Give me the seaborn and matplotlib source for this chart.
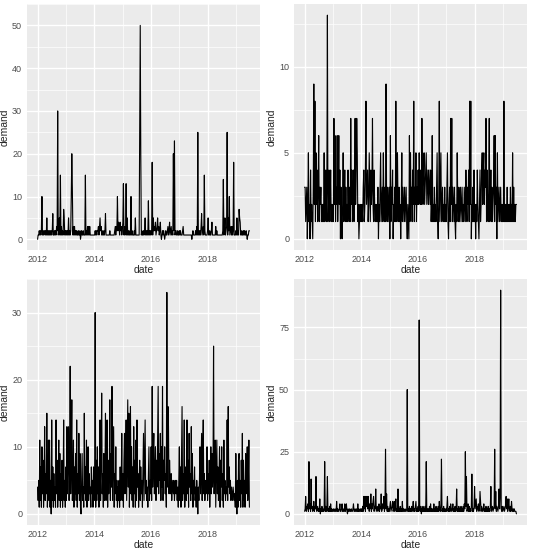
import numpy as np
import pandas as pd
import seaborn as sns
import matplotlib.pyplot as plt
import matplotlib.dates as mdates

# weekly demand, 2012-01-01 .. 2019-06-30 (one row per year)
demand_a = (
    [0, 1, 1, 2, 1, 2, 1, 2, 10, 1, 2, 1, 2, 2, 1, 2, 1, 5, 1, 2, 1, 2, 1, 2, 1, 2, 1, 2, 6, 1, 1, 2, 1, 2, 1, 3, 2, 30, 1, 2, 5, 1, 15, 1, 3, 1, 2, 1, 7, 5, 1, 2]
    + [1, 2, 1, 2, 1, 5, 1, 2, 1, 2, 10, 20, 12, 1, 3, 1, 3, 1, 2, 1, 2, 1, 1, 2, 1, 1, 2, 0, 1, 2, 1, 1, 2, 1, 1, 1, 15, 1, 2, 1, 3, 1, 3, 1, 3, 1, 1, 1, 1, 1, 1, 1]
    + [1, 1, 2, 1, 2, 1, 2, 2, 3, 1, 3, 5, 2, 3, 1, 2, 1, 1, 2, 1, 2, 6, 1, 1, 1, 1, 1, 1, 1, 2, 1, 1, 1, 1, 1, 1, 1, 1, 2, 3, 1, 3, 2, 10, 2, 4, 3, 1, 4, 2, 3, 1]
    + [2, 4, 13, 1, 3, 1, 2, 13, 1, 5, 1, 2, 1, 1, 2, 1, 10, 1, 2, 1, 1, 1, 2, 1, 5, 1, 1, 1, 1, 1, 1, 1, 25, 50, 20, 1, 2, 1, 1, 2, 1, 2, 5, 1, 2, 1, 2, 1, 9, 1, 2, 1]
    + [2, 1, 2, 18, 1, 5, 2, 3, 2, 4, 1, 2, 3, 5, 2, 3, 1, 2, 4, 1, 0, 1, 2, 1, 2, 1, 0, 1, 2, 1, 1, 2, 3, 1, 2, 4, 1, 2, 3, 1, 2, 1, 20, 2, 23, 1, 2, 2, 1, 1, 2, 1]
    + [1, 2, 1, 2, 1, 1, 1, 2, 3, 1, 1, 1, 1, 1, 1, 1, 1, 1, 1, 1, 1, 1, 1, 1, 0, 1, 2, 1, 1, 1, 1, 2, 1, 3, 1, 25, 1, 2, 1, 2, 1, 3, 6, 1, 2, 3, 1, 15, 2, 1, 1, 1]
    + [1, 2, 5, 1, 1, 2, 1, 1, 2, 4, 1, 1, 1, 1, 1, 1, 3, 1, 2, 1, 1, 1, 1, 1, 1, 1, 1, 1, 1, 2, 14, 1, 2, 5, 1, 2, 3, 25, 1, 5, 2, 10, 1, 2, 3, 1, 3, 1, 2, 18, 1, 1]
    + [1, 2, 1, 5, 1, 2, 1, 7, 5, 4, 1, 1, 2, 1, 1, 2, 1, 2, 1, 1, 2, 1, 0, 1, 1, 2, 2]
)

demand_b = (
    [3, 3, 1, 2, 3, 0, 2, 5, 1, 2, 0, 4, 1, 2, 1, 0, 3, 9, 2, 8, 1, 5, 2, 4, 1, 3, 6, 1, 3, 2, 3, 1, 2, 1, 2, 1, 5, 1, 2, 4, 1, 3, 13, 1, 2, 4, 1, 2, 4, 1, 2, 1]
    + [2, 1, 7, 2, 6, 1, 3, 2, 6, 1, 3, 6, 2, 4, 0, 3, 1, 0, 2, 5, 1, 2, 4, 1, 3, 1, 2, 1, 4, 2, 1, 3, 1, 7, 2, 4, 1, 2, 4, 1, 3, 7, 2, 4, 7, 5, 1, 2, 0, 1, 2, 1]
    + [2, 1, 2, 1, 3, 4, 1, 2, 4, 8, 2, 3, 4, 1, 2, 5, 3, 1, 4, 2, 3, 7, 2, 1, 4, 2, 1, 2, 1, 2, 1, 3, 0, 2, 1, 3, 5, 1, 2, 3, 1, 5, 2, 1, 3, 1, 9, 2, 1, 3, 1, 2]
    + [3, 0, 6, 1, 3, 2, 4, 0, 2, 1, 3, 1, 8, 2, 1, 5, 2, 1, 3, 1, 2, 0, 2, 5, 1, 3, 2, 1, 3, 1, 2, 3, 1, 0, 2, 1, 0, 6, 1, 5, 2, 3, 1, 4, 2, 8, 1, 3, 2, 5, 1, 3]
    + [2, 4, 2, 5, 3, 2, 4, 2, 7, 3, 2, 4, 5, 2, 3, 4, 5, 2, 3, 4, 2, 4, 3, 2, 4, 1, 2, 6, 1, 2, 1, 3, 1, 2, 1, 3, 5, 1, 0, 2, 8, 1, 3, 5, 1, 2, 3, 1, 2, 1, 3, 1]
    + [2, 1, 3, 5, 1, 0, 2, 3, 1, 7, 2, 7, 1, 3, 2, 1, 3, 1, 0, 2, 1, 5, 2, 1, 3, 1, 2, 3, 1, 2, 3, 1, 2, 1, 3, 2, 1, 4, 2, 1, 3, 2, 4, 1, 8, 2, 8, 0, 2, 1, 3, 1]
    + [4, 1, 2, 0, 2, 1, 4, 2, 1, 0, 2, 4, 1, 2, 4, 5, 2, 4, 5, 2, 4, 3, 7, 1, 4, 2, 1, 3, 7, 1, 2, 4, 1, 3, 1, 2, 3, 6, 1, 6, 2, 3, 0, 5, 1, 2, 3, 1, 2, 3, 1, 2]
    + [1, 2, 1, 8, 1, 2, 1, 2, 1, 3, 1, 2, 1, 2, 1, 3, 1, 2, 1, 5, 1, 3, 1, 2, 1, 2, 2]
)

demand_c = (
    [4, 2, 5, 1, 11, 2, 7, 1, 10, 3, 8, 1, 5, 13, 2, 6, 3, 15, 1, 4, 11, 2, 11, 1, 5, 0, 14, 2, 7, 1, 6, 2, 4, 1, 14, 3, 8, 1, 5, 11, 2, 9, 1, 6, 2, 8, 1, 4, 14, 2, 5, 1]
    + [7, 2, 13, 3, 8, 13, 2, 6, 22, 3, 9, 17, 2, 5, 11, 1, 7, 3, 9, 2, 14, 1, 6, 3, 12, 2, 9, 1, 0, 5, 9, 2, 4, 1, 15, 3, 7, 2, 11, 1, 5, 10, 2, 6, 3, 4, 1, 7, 3, 5, 1, 7]
    + [2, 5, 30, 1, 8, 2, 10, 3, 7, 1, 6, 14, 2, 8, 18, 3, 6, 1, 9, 2, 5, 15, 2, 7, 14, 1, 8, 3, 6, 17, 2, 9, 4, 19, 2, 7, 13, 1, 6, 3, 10, 2, 5, 1, 4, 2, 5, 1, 7, 2, 4, 12]
    + [2, 6, 1, 8, 12, 3, 7, 14, 2, 9, 17, 4, 15, 1, 6, 16, 3, 10, 2, 7, 1, 13, 3, 8, 1, 11, 2, 14, 4, 6, 1, 5, 8, 2, 7, 3, 5, 1, 6, 12, 2, 8, 14, 3, 5, 2, 4, 1, 6, 10, 2, 5]
    + [3, 10, 2, 19, 4, 9, 12, 3, 6, 10, 2, 8, 4, 11, 19, 3, 9, 5, 12, 2, 10, 4, 19, 2, 8, 5, 10, 3, 6, 1, 33, 4, 16, 13, 3, 8, 5, 3, 6, 2, 5, 4, 3, 5, 2, 4, 5, 3, 5, 2, 4, 1]
    + [5, 10, 2, 7, 1, 9, 16, 2, 6, 3, 14, 1, 7, 4, 2, 14, 3, 8, 1, 12, 4, 6, 2, 13, 3, 9, 1, 5, 3, 7, 2, 4, 1, 5, 3, 0, 4, 2, 5, 10, 3, 8, 12, 2, 9, 14, 3, 6, 2, 5, 3, 4]
    + [10, 2, 6, 3, 8, 1, 5, 10, 3, 9, 4, 6, 25, 3, 8, 11, 1, 6, 11, 3, 7, 2, 5, 10, 1, 8, 4, 10, 2, 6, 1, 11, 3, 5, 2, 4, 3, 14, 2, 16, 4, 7, 3, 5, 2, 4, 3, 2, 4, 3, 2, 3]
    + [1, 9, 2, 0, 5, 1, 8, 9, 2, 5, 1, 8, 3, 12, 1, 8, 2, 5, 1, 9, 3, 6, 10, 2, 5, 11, 1]
)

demand_d = (
    [1, 2, 7, 1, 3, 2, 4, 1, 21, 2, 4, 1, 14, 2, 3, 1, 2, 5, 1, 3, 2, 15, 1, 2, 3, 1, 2, 1, 6, 0, 2, 1, 3, 1, 2, 1, 2, 21, 1, 3, 1, 2, 15, 1, 2, 1, 3, 1, 4, 1, 2, 1]
    + [1, 2, 1, 1, 2, 1, 1, 5, 1, 2, 1, 1, 2, 4, 1, 1, 2, 4, 1, 2, 1, 1, 4, 1, 2, 4, 1, 0, 2, 1, 1, 2, 1, 1, 2, 1, 1, 2, 4, 1, 1, 2, 1, 1, 2, 1, 4, 1, 2, 1, 1, 2]
    + [1, 2, 1, 3, 1, 7, 2, 7, 1, 7, 3, 7, 2, 7, 3, 1, 4, 2, 8, 1, 4, 2, 5, 7, 1, 3, 2, 10, 1, 2, 3, 1, 2, 4, 1, 3, 2, 8, 1, 4, 2, 3, 7, 1, 3, 26, 2, 8, 1, 3, 1, 2]
    + [1, 3, 5, 1, 2, 3, 5, 1, 2, 5, 1, 3, 6, 1, 2, 1, 10, 1, 2, 1, 3, 1, 2, 1, 5, 1, 2, 1, 1, 2, 1, 1, 2, 50, 1, 2, 1, 3, 1, 2, 1, 3, 1, 2, 5, 1, 2, 1, 3, 5, 1, 2]
    + [1, 3, 1, 78, 2, 1, 3, 0, 2, 1, 3, 1, 2, 1, 3, 1, 21, 1, 2, 1, 2, 1, 3, 1, 4, 1, 2, 1, 2, 1, 4, 1, 2, 1, 3, 1, 2, 1, 3, 1, 5, 2, 1, 3, 22, 1, 2, 1, 3, 1, 2, 1]
    + [2, 1, 3, 7, 1, 2, 1, 3, 1, 4, 2, 1, 2, 4, 1, 2, 1, 3, 1, 2, 10, 1, 2, 1, 3, 1, 2, 1, 3, 1, 2, 1, 3, 1, 4, 2, 25, 3, 15, 1, 2, 4, 1, 3, 1, 2, 1, 3, 16, 1, 2, 1]
    + [3, 11, 2, 4, 6, 1, 3, 2, 4, 1, 2, 9, 5, 1, 3, 2, 1, 2, 4, 1, 2, 1, 3, 1, 2, 1, 3, 1, 2, 1, 3, 11, 1, 2, 3, 1, 2, 3, 26, 2, 9, 1, 3, 2, 1, 3, 10, 2, 7, 90, 2, 1]
    + [3, 1, 2, 3, 1, 2, 3, 7, 2, 6, 1, 3, 6, 2, 1, 3, 1, 5, 2, 1, 2, 1, 2, 1, 1, 1, 0]
)

series_list = [demand_a, demand_b, demand_c, demand_d]
y_breaks = [[0, 10, 20, 30, 40, 50], [0, 5, 10], [0, 10, 20, 30], [0, 25, 50, 75]]
x_years = [2012, 2014, 2016, 2018]

dates = pd.date_range("2012-01-01", periods=len(demand_a), freq="7D")

sns.set_style("darkgrid", {"axes.facecolor": "#EBEBEB", "grid.color": "white"})
plt.rcParams["font.family"] = ["Liberation Sans", "DejaVu Sans"]

fig = plt.figure(figsize=(5.34, 5.5), dpi=100)
W, H = 534.0, 550.0
# panel rectangles in pixels: left, top, right, bottom
boxes = [(27, 4, 260, 250), (294, 4, 527, 250), (27, 279, 260, 525), (294, 279, 527, 525)]

for vals, breaks, (l, t, r, b) in zip(series_list, y_breaks, boxes):
    ax = fig.add_axes([l / W, 1 - b / H, (r - l) / W, (b - t) / H])
    df = pd.DataFrame({"date": dates, "demand": vals})
    sns.lineplot(data=df, x="date", y="demand", ax=ax, color="black",
                 linewidth=0.8, estimator=None)

    lo, hi = min(vals), max(vals)
    pad = 0.05 * (hi - lo)
    ax.set_ylim(lo - pad, hi + pad)
    x0 = mdates.date2num(dates[0])
    x1 = mdates.date2num(dates[-1])
    ax.set_xlim(x0 - 0.05 * (x1 - x0), x1 + 0.05 * (x1 - x0))

    ax.set_yticks(breaks)
    step = breaks[1] - breaks[0]
    ax.set_yticks([v + step / 2 for v in breaks[:-1]] + [breaks[-1] + step / 2], minor=True)
    ax.set_xticks([mdates.date2num(pd.Timestamp(f"{y}-01-01")) for y in x_years])
    ax.set_xticks([mdates.date2num(pd.Timestamp(f"{y + 1}-01-01")) for y in x_years], minor=True)
    ax.xaxis.set_major_formatter(mdates.DateFormatter("%Y"))

    ax.grid(which="major", color="white", linewidth=1.0)
    ax.grid(which="minor", color="white", linewidth=0.5)
    for s in ax.spines.values():
        s.set_visible(False)
    ax.tick_params(which="major", length=2, width=0.5, color="#333333",
                   labelsize=6.5, labelcolor="#4D4D4D", pad=1.5)
    ax.tick_params(which="minor", length=0)
    ax.set_xlabel("date", fontsize=7.5, labelpad=1)
    ax.set_ylabel("demand", fontsize=7.5, labelpad=2)

fig.savefig("out.png", dpi=100)
